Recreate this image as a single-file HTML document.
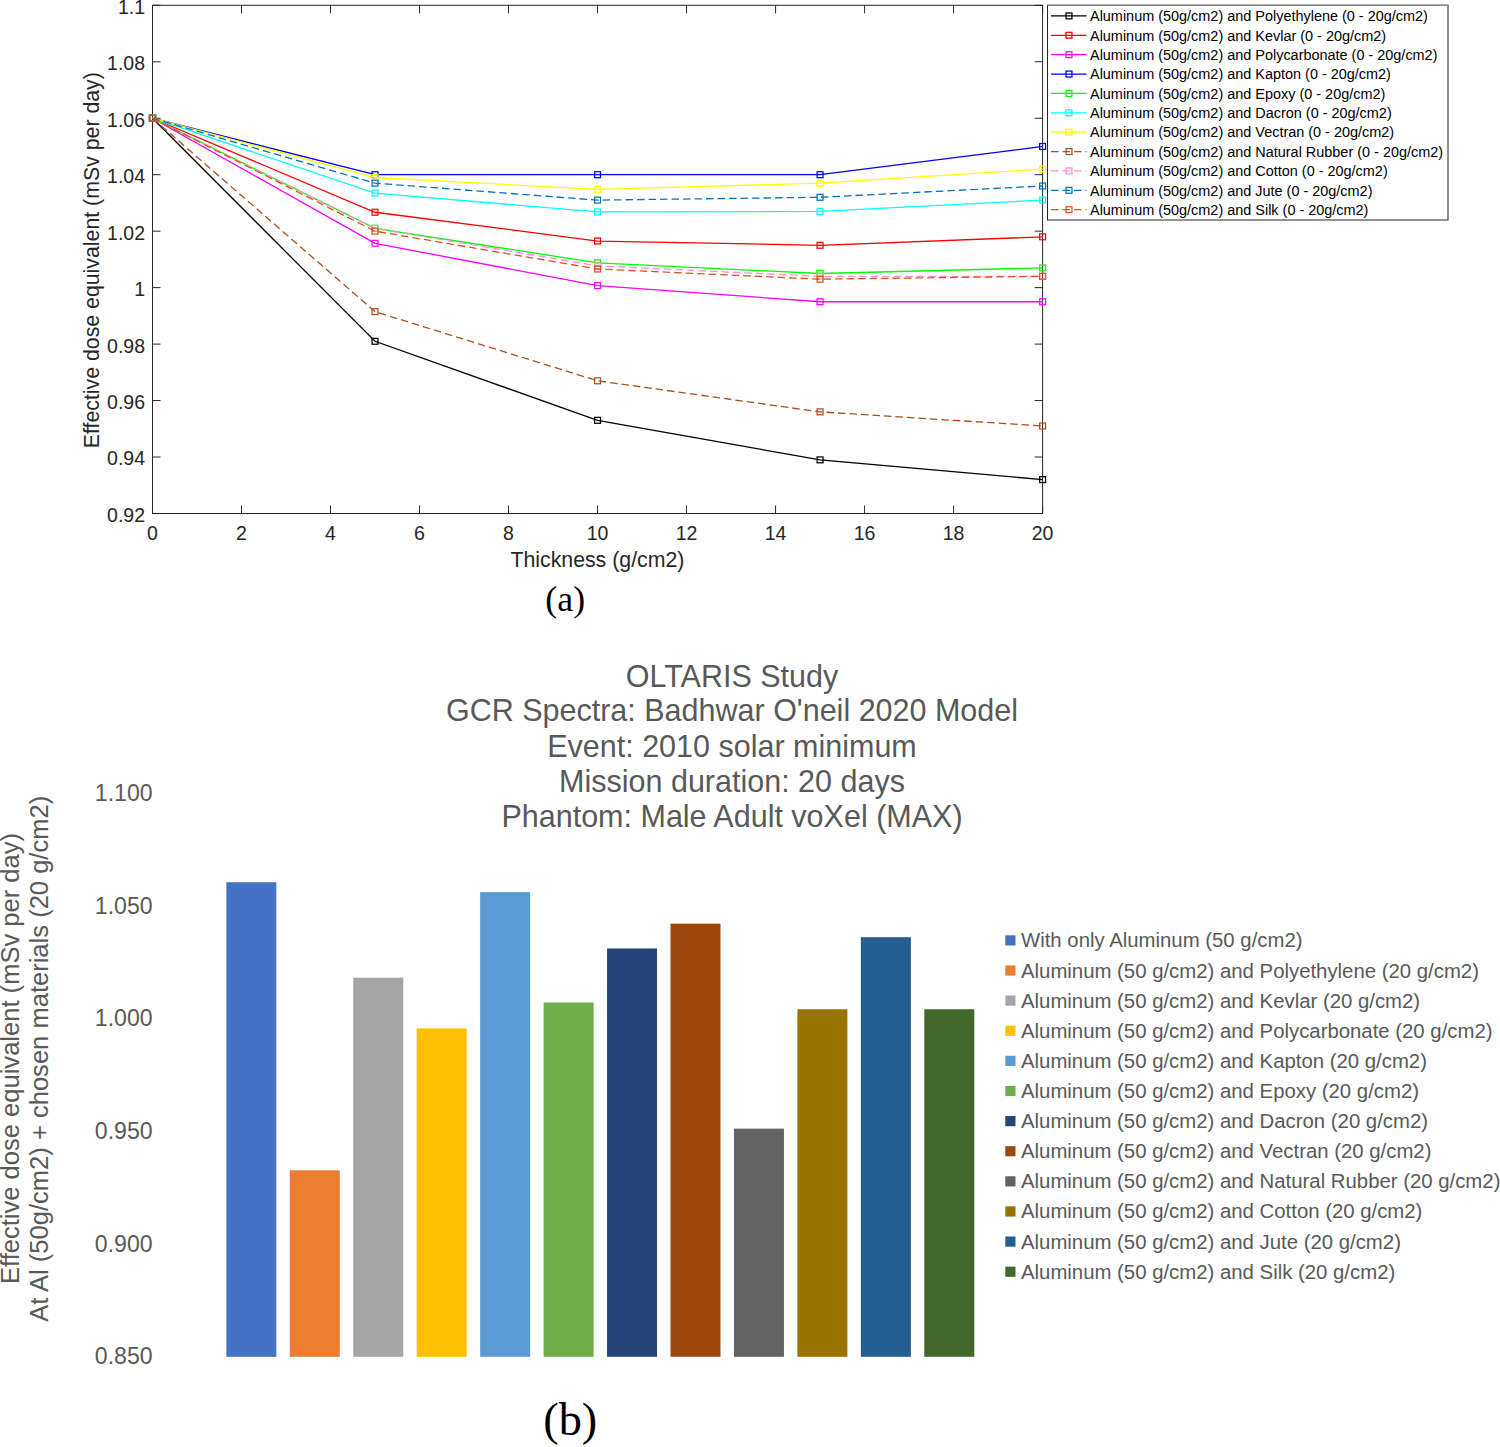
<!DOCTYPE html><html><head><meta charset="utf-8"><style>html,body{margin:0;padding:0;background:#fff;width:1500px;height:1447px;overflow:hidden}svg{display:block}text{font-family:"Liberation Sans",sans-serif}</style></head><body>
<svg width="1500" height="1447" viewBox="0 0 1500 1447">
<rect width="1500" height="1447" fill="#fff"/>
<g fill="none" stroke="#262626" stroke-width="1">
<rect x="152.5" y="5.3" width="890.0999999999999" height="508.2"/>
<line x1="152.50" y1="513.5" x2="152.50" y2="505.5"/><line x1="152.50" y1="5.3" x2="152.50" y2="13.3"/>
<line x1="241.51" y1="513.5" x2="241.51" y2="505.5"/><line x1="241.51" y1="5.3" x2="241.51" y2="13.3"/>
<line x1="330.52" y1="513.5" x2="330.52" y2="505.5"/><line x1="330.52" y1="5.3" x2="330.52" y2="13.3"/>
<line x1="419.53" y1="513.5" x2="419.53" y2="505.5"/><line x1="419.53" y1="5.3" x2="419.53" y2="13.3"/>
<line x1="508.54" y1="513.5" x2="508.54" y2="505.5"/><line x1="508.54" y1="5.3" x2="508.54" y2="13.3"/>
<line x1="597.55" y1="513.5" x2="597.55" y2="505.5"/><line x1="597.55" y1="5.3" x2="597.55" y2="13.3"/>
<line x1="686.56" y1="513.5" x2="686.56" y2="505.5"/><line x1="686.56" y1="5.3" x2="686.56" y2="13.3"/>
<line x1="775.57" y1="513.5" x2="775.57" y2="505.5"/><line x1="775.57" y1="5.3" x2="775.57" y2="13.3"/>
<line x1="864.58" y1="513.5" x2="864.58" y2="505.5"/><line x1="864.58" y1="5.3" x2="864.58" y2="13.3"/>
<line x1="953.59" y1="513.5" x2="953.59" y2="505.5"/><line x1="953.59" y1="5.3" x2="953.59" y2="13.3"/>
<line x1="1042.60" y1="513.5" x2="1042.60" y2="505.5"/><line x1="1042.60" y1="5.3" x2="1042.60" y2="13.3"/>
<line x1="152.5" y1="513.50" x2="160.5" y2="513.50"/><line x1="1042.6" y1="513.50" x2="1034.6" y2="513.50"/>
<line x1="152.5" y1="457.03" x2="160.5" y2="457.03"/><line x1="1042.6" y1="457.03" x2="1034.6" y2="457.03"/>
<line x1="152.5" y1="400.57" x2="160.5" y2="400.57"/><line x1="1042.6" y1="400.57" x2="1034.6" y2="400.57"/>
<line x1="152.5" y1="344.10" x2="160.5" y2="344.10"/><line x1="1042.6" y1="344.10" x2="1034.6" y2="344.10"/>
<line x1="152.5" y1="287.63" x2="160.5" y2="287.63"/><line x1="1042.6" y1="287.63" x2="1034.6" y2="287.63"/>
<line x1="152.5" y1="231.17" x2="160.5" y2="231.17"/><line x1="1042.6" y1="231.17" x2="1034.6" y2="231.17"/>
<line x1="152.5" y1="174.70" x2="160.5" y2="174.70"/><line x1="1042.6" y1="174.70" x2="1034.6" y2="174.70"/>
<line x1="152.5" y1="118.23" x2="160.5" y2="118.23"/><line x1="1042.6" y1="118.23" x2="1034.6" y2="118.23"/>
<line x1="152.5" y1="61.77" x2="160.5" y2="61.77"/><line x1="1042.6" y1="61.77" x2="1034.6" y2="61.77"/>
<line x1="152.5" y1="5.30" x2="160.5" y2="5.30"/><line x1="1042.6" y1="5.30" x2="1034.6" y2="5.30"/>
</g>
<g fill="#262626" font-size="19.5">
<text x="145" y="521.90" text-anchor="end">0.92</text>
<text x="145" y="465.43" text-anchor="end">0.94</text>
<text x="145" y="408.97" text-anchor="end">0.96</text>
<text x="145" y="352.50" text-anchor="end">0.98</text>
<text x="145" y="296.03" text-anchor="end">1</text>
<text x="145" y="239.57" text-anchor="end">1.02</text>
<text x="145" y="183.10" text-anchor="end">1.04</text>
<text x="145" y="126.63" text-anchor="end">1.06</text>
<text x="145" y="70.17" text-anchor="end">1.08</text>
<text x="145" y="13.70" text-anchor="end">1.1</text>
<text x="152.50" y="539.8" text-anchor="middle">0</text>
<text x="241.51" y="539.8" text-anchor="middle">2</text>
<text x="330.52" y="539.8" text-anchor="middle">4</text>
<text x="419.53" y="539.8" text-anchor="middle">6</text>
<text x="508.54" y="539.8" text-anchor="middle">8</text>
<text x="597.55" y="539.8" text-anchor="middle">10</text>
<text x="686.56" y="539.8" text-anchor="middle">12</text>
<text x="775.57" y="539.8" text-anchor="middle">14</text>
<text x="864.58" y="539.8" text-anchor="middle">16</text>
<text x="953.59" y="539.8" text-anchor="middle">18</text>
<text x="1042.60" y="539.8" text-anchor="middle">20</text>
</g>
<text x="597.4" y="567.2" text-anchor="middle" font-size="21.3" fill="#262626">Thickness (g/cm2)</text>
<text transform="translate(98.5 260.2) rotate(-90)" text-anchor="middle" font-size="21.3" fill="#262626">Effective dose equivalent (mSv per day)</text>
<polyline points="152.50,118.23 375.02,341.28 597.55,420.33 820.07,459.86 1042.60,479.62" fill="none" stroke="#000000" stroke-width="1.3"/>
<rect x="149.55" y="115.28" width="5.9" height="5.9" fill="none" stroke="#000000" stroke-width="1.25"/>
<rect x="372.07" y="338.33" width="5.9" height="5.9" fill="none" stroke="#000000" stroke-width="1.25"/>
<rect x="594.60" y="417.38" width="5.9" height="5.9" fill="none" stroke="#000000" stroke-width="1.25"/>
<rect x="817.12" y="456.91" width="5.9" height="5.9" fill="none" stroke="#000000" stroke-width="1.25"/>
<rect x="1039.65" y="476.67" width="5.9" height="5.9" fill="none" stroke="#000000" stroke-width="1.25"/>
<polyline points="152.50,118.23 375.02,212.25 597.55,241.05 820.07,245.28 1042.60,236.81" fill="none" stroke="#ff0000" stroke-width="1.3"/>
<rect x="149.55" y="115.28" width="5.9" height="5.9" fill="none" stroke="#ff0000" stroke-width="1.25"/>
<rect x="372.07" y="209.30" width="5.9" height="5.9" fill="none" stroke="#ff0000" stroke-width="1.25"/>
<rect x="594.60" y="238.10" width="5.9" height="5.9" fill="none" stroke="#ff0000" stroke-width="1.25"/>
<rect x="817.12" y="242.33" width="5.9" height="5.9" fill="none" stroke="#ff0000" stroke-width="1.25"/>
<rect x="1039.65" y="233.86" width="5.9" height="5.9" fill="none" stroke="#ff0000" stroke-width="1.25"/>
<polyline points="152.50,118.23 375.02,243.31 597.55,285.66 820.07,301.75 1042.60,301.75" fill="none" stroke="#ff00ff" stroke-width="1.3"/>
<rect x="149.55" y="115.28" width="5.9" height="5.9" fill="none" stroke="#ff00ff" stroke-width="1.25"/>
<rect x="372.07" y="240.36" width="5.9" height="5.9" fill="none" stroke="#ff00ff" stroke-width="1.25"/>
<rect x="594.60" y="282.71" width="5.9" height="5.9" fill="none" stroke="#ff00ff" stroke-width="1.25"/>
<rect x="817.12" y="298.80" width="5.9" height="5.9" fill="none" stroke="#ff00ff" stroke-width="1.25"/>
<rect x="1039.65" y="298.80" width="5.9" height="5.9" fill="none" stroke="#ff00ff" stroke-width="1.25"/>
<polyline points="152.50,118.23 375.02,174.70 597.55,174.70 820.07,174.70 1042.60,146.47" fill="none" stroke="#0000ff" stroke-width="1.3"/>
<rect x="149.55" y="115.28" width="5.9" height="5.9" fill="none" stroke="#0000ff" stroke-width="1.25"/>
<rect x="372.07" y="171.75" width="5.9" height="5.9" fill="none" stroke="#0000ff" stroke-width="1.25"/>
<rect x="594.60" y="171.75" width="5.9" height="5.9" fill="none" stroke="#0000ff" stroke-width="1.25"/>
<rect x="817.12" y="171.75" width="5.9" height="5.9" fill="none" stroke="#0000ff" stroke-width="1.25"/>
<rect x="1039.65" y="143.52" width="5.9" height="5.9" fill="none" stroke="#0000ff" stroke-width="1.25"/>
<polyline points="152.50,118.23 375.02,228.34 597.55,262.79 820.07,273.52 1042.60,267.87" fill="none" stroke="#00ff00" stroke-width="1.3"/>
<rect x="149.55" y="115.28" width="5.9" height="5.9" fill="none" stroke="#00ff00" stroke-width="1.25"/>
<rect x="372.07" y="225.39" width="5.9" height="5.9" fill="none" stroke="#00ff00" stroke-width="1.25"/>
<rect x="594.60" y="259.84" width="5.9" height="5.9" fill="none" stroke="#00ff00" stroke-width="1.25"/>
<rect x="817.12" y="270.57" width="5.9" height="5.9" fill="none" stroke="#00ff00" stroke-width="1.25"/>
<rect x="1039.65" y="264.92" width="5.9" height="5.9" fill="none" stroke="#00ff00" stroke-width="1.25"/>
<polyline points="152.50,118.23 375.02,193.05 597.55,211.97 820.07,211.40 1042.60,200.11" fill="none" stroke="#00ffff" stroke-width="1.3"/>
<rect x="149.55" y="115.28" width="5.9" height="5.9" fill="none" stroke="#00ffff" stroke-width="1.25"/>
<rect x="372.07" y="190.10" width="5.9" height="5.9" fill="none" stroke="#00ffff" stroke-width="1.25"/>
<rect x="594.60" y="209.02" width="5.9" height="5.9" fill="none" stroke="#00ffff" stroke-width="1.25"/>
<rect x="817.12" y="208.45" width="5.9" height="5.9" fill="none" stroke="#00ffff" stroke-width="1.25"/>
<rect x="1039.65" y="197.16" width="5.9" height="5.9" fill="none" stroke="#00ffff" stroke-width="1.25"/>
<polyline points="152.50,118.23 375.02,177.52 597.55,189.38 820.07,183.17 1042.60,169.05" fill="none" stroke="#ffff00" stroke-width="1.3"/>
<rect x="149.55" y="115.28" width="5.9" height="5.9" fill="none" stroke="#ffff00" stroke-width="1.25"/>
<rect x="372.07" y="174.57" width="5.9" height="5.9" fill="none" stroke="#ffff00" stroke-width="1.25"/>
<rect x="594.60" y="186.43" width="5.9" height="5.9" fill="none" stroke="#ffff00" stroke-width="1.25"/>
<rect x="817.12" y="180.22" width="5.9" height="5.9" fill="none" stroke="#ffff00" stroke-width="1.25"/>
<rect x="1039.65" y="166.10" width="5.9" height="5.9" fill="none" stroke="#ffff00" stroke-width="1.25"/>
<polyline points="152.50,118.23 375.02,311.63 597.55,380.80 820.07,411.86 1042.60,425.98" fill="none" stroke="#b04c1c" stroke-width="1.3" stroke-dasharray="7.5 4"/>
<rect x="149.55" y="115.28" width="5.9" height="5.9" fill="none" stroke="#b04c1c" stroke-width="1.25"/>
<rect x="372.07" y="308.68" width="5.9" height="5.9" fill="none" stroke="#b04c1c" stroke-width="1.25"/>
<rect x="594.60" y="377.85" width="5.9" height="5.9" fill="none" stroke="#b04c1c" stroke-width="1.25"/>
<rect x="817.12" y="408.91" width="5.9" height="5.9" fill="none" stroke="#b04c1c" stroke-width="1.25"/>
<rect x="1039.65" y="423.03" width="5.9" height="5.9" fill="none" stroke="#b04c1c" stroke-width="1.25"/>
<polyline points="152.50,118.23 375.02,228.34 597.55,265.89 820.07,276.34 1042.60,276.34" fill="none" stroke="#ff8fcf" stroke-width="1.3" stroke-dasharray="7.5 4"/>
<rect x="149.55" y="115.28" width="5.9" height="5.9" fill="none" stroke="#ff8fcf" stroke-width="1.25"/>
<rect x="372.07" y="225.39" width="5.9" height="5.9" fill="none" stroke="#ff8fcf" stroke-width="1.25"/>
<rect x="594.60" y="262.94" width="5.9" height="5.9" fill="none" stroke="#ff8fcf" stroke-width="1.25"/>
<rect x="817.12" y="273.39" width="5.9" height="5.9" fill="none" stroke="#ff8fcf" stroke-width="1.25"/>
<rect x="1039.65" y="273.39" width="5.9" height="5.9" fill="none" stroke="#ff8fcf" stroke-width="1.25"/>
<polyline points="152.50,118.23 375.02,183.17 597.55,200.11 820.07,197.29 1042.60,185.99" fill="none" stroke="#0072bd" stroke-width="1.3" stroke-dasharray="7.5 4"/>
<rect x="149.55" y="115.28" width="5.9" height="5.9" fill="none" stroke="#0072bd" stroke-width="1.25"/>
<rect x="372.07" y="180.22" width="5.9" height="5.9" fill="none" stroke="#0072bd" stroke-width="1.25"/>
<rect x="594.60" y="197.16" width="5.9" height="5.9" fill="none" stroke="#0072bd" stroke-width="1.25"/>
<rect x="817.12" y="194.34" width="5.9" height="5.9" fill="none" stroke="#0072bd" stroke-width="1.25"/>
<rect x="1039.65" y="183.04" width="5.9" height="5.9" fill="none" stroke="#0072bd" stroke-width="1.25"/>
<polyline points="152.50,118.23 375.02,231.17 597.55,269.00 820.07,279.16 1042.60,276.34" fill="none" stroke="#d95319" stroke-width="1.3" stroke-dasharray="7.5 4"/>
<rect x="149.55" y="115.28" width="5.9" height="5.9" fill="none" stroke="#d95319" stroke-width="1.25"/>
<rect x="372.07" y="228.22" width="5.9" height="5.9" fill="none" stroke="#d95319" stroke-width="1.25"/>
<rect x="594.60" y="266.05" width="5.9" height="5.9" fill="none" stroke="#d95319" stroke-width="1.25"/>
<rect x="817.12" y="276.21" width="5.9" height="5.9" fill="none" stroke="#d95319" stroke-width="1.25"/>
<rect x="1039.65" y="273.39" width="5.9" height="5.9" fill="none" stroke="#d95319" stroke-width="1.25"/>
<rect x="1047.5" y="5.2" width="400.5" height="214.8" fill="#fff" stroke="#262626" stroke-width="1"/>
<line x1="1047.5" y1="5.2" x2="1448" y2="5.2" stroke="#999" stroke-width="1"/>
<line x1="1051" y1="15.90" x2="1086.6" y2="15.90" stroke="#000000" stroke-width="1.3"/>
<rect x="1066.05" y="12.95" width="5.9" height="5.9" fill="none" stroke="#000000" stroke-width="1.25"/>
<text x="1090" y="21.20" font-size="14.45" fill="#000">Aluminum (50g/cm2) and Polyethylene (0 - 20g/cm2)</text>
<line x1="1051" y1="35.28" x2="1086.6" y2="35.28" stroke="#ff0000" stroke-width="1.3"/>
<rect x="1066.05" y="32.33" width="5.9" height="5.9" fill="none" stroke="#ff0000" stroke-width="1.25"/>
<text x="1090" y="40.58" font-size="14.45" fill="#000">Aluminum (50g/cm2) and Kevlar (0 - 20g/cm2)</text>
<line x1="1051" y1="54.66" x2="1086.6" y2="54.66" stroke="#ff00ff" stroke-width="1.3"/>
<rect x="1066.05" y="51.71" width="5.9" height="5.9" fill="none" stroke="#ff00ff" stroke-width="1.25"/>
<text x="1090" y="59.96" font-size="14.45" fill="#000">Aluminum (50g/cm2) and Polycarbonate (0 - 20g/cm2)</text>
<line x1="1051" y1="74.04" x2="1086.6" y2="74.04" stroke="#0000ff" stroke-width="1.3"/>
<rect x="1066.05" y="71.09" width="5.9" height="5.9" fill="none" stroke="#0000ff" stroke-width="1.25"/>
<text x="1090" y="79.34" font-size="14.45" fill="#000">Aluminum (50g/cm2) and Kapton (0 - 20g/cm2)</text>
<line x1="1051" y1="93.42" x2="1086.6" y2="93.42" stroke="#00ff00" stroke-width="1.3"/>
<rect x="1066.05" y="90.47" width="5.9" height="5.9" fill="none" stroke="#00ff00" stroke-width="1.25"/>
<text x="1090" y="98.72" font-size="14.45" fill="#000">Aluminum (50g/cm2) and Epoxy (0 - 20g/cm2)</text>
<line x1="1051" y1="112.80" x2="1086.6" y2="112.80" stroke="#00ffff" stroke-width="1.3"/>
<rect x="1066.05" y="109.85" width="5.9" height="5.9" fill="none" stroke="#00ffff" stroke-width="1.25"/>
<text x="1090" y="118.10" font-size="14.45" fill="#000">Aluminum (50g/cm2) and Dacron (0 - 20g/cm2)</text>
<line x1="1051" y1="132.18" x2="1086.6" y2="132.18" stroke="#ffff00" stroke-width="1.3"/>
<rect x="1066.05" y="129.23" width="5.9" height="5.9" fill="none" stroke="#ffff00" stroke-width="1.25"/>
<text x="1090" y="137.48" font-size="14.45" fill="#000">Aluminum (50g/cm2) and Vectran (0 - 20g/cm2)</text>
<line x1="1051" y1="151.56" x2="1086.6" y2="151.56" stroke="#b04c1c" stroke-width="1.3" stroke-dasharray="7.5 4"/>
<rect x="1066.05" y="148.61" width="5.9" height="5.9" fill="none" stroke="#b04c1c" stroke-width="1.25"/>
<text x="1090" y="156.86" font-size="14.45" fill="#000">Aluminum (50g/cm2) and Natural Rubber (0 - 20g/cm2)</text>
<line x1="1051" y1="170.94" x2="1086.6" y2="170.94" stroke="#ff8fcf" stroke-width="1.3" stroke-dasharray="7.5 4"/>
<rect x="1066.05" y="167.99" width="5.9" height="5.9" fill="none" stroke="#ff8fcf" stroke-width="1.25"/>
<text x="1090" y="176.24" font-size="14.45" fill="#000">Aluminum (50g/cm2) and Cotton (0 - 20g/cm2)</text>
<line x1="1051" y1="190.32" x2="1086.6" y2="190.32" stroke="#0072bd" stroke-width="1.3" stroke-dasharray="7.5 4"/>
<rect x="1066.05" y="187.37" width="5.9" height="5.9" fill="none" stroke="#0072bd" stroke-width="1.25"/>
<text x="1090" y="195.62" font-size="14.45" fill="#000">Aluminum (50g/cm2) and Jute (0 - 20g/cm2)</text>
<line x1="1051" y1="209.70" x2="1086.6" y2="209.70" stroke="#d95319" stroke-width="1.3" stroke-dasharray="7.5 4"/>
<rect x="1066.05" y="206.75" width="5.9" height="5.9" fill="none" stroke="#d95319" stroke-width="1.25"/>
<text x="1090" y="215.00" font-size="14.45" fill="#000">Aluminum (50g/cm2) and Silk (0 - 20g/cm2)</text>
<text x="565.2" y="610.7" text-anchor="middle" font-size="35.8" fill="#000" style="font-family:'Liberation Serif',serif">(a)</text>
<g fill="#595959" font-size="30.5" text-anchor="middle">
<text x="732" y="687.2">OLTARIS Study</text>
<text x="732" y="721.0">GCR Spectra: Badhwar O'neil 2020 Model</text>
<text x="732" y="757.3">Event: 2010 solar minimum</text>
<text x="732" y="791.5">Mission duration: 20 days</text>
<text x="732" y="826.9">Phantom: Male Adult voXel (MAX)</text>
</g>
<g fill="#595959" font-size="23.1" text-anchor="end">
<text x="152.6" y="801.10">1.100</text>
<text x="152.6" y="913.72">1.050</text>
<text x="152.6" y="1026.34">1.000</text>
<text x="152.6" y="1138.96">0.950</text>
<text x="152.6" y="1251.58">0.900</text>
<text x="152.6" y="1364.20">0.850</text>
</g>
<g fill="#595959" font-size="25.55" text-anchor="middle">
<text transform="translate(19.2 1058.5) rotate(-90)">Effective dose equivalent (mSv per day)</text>
<text transform="translate(48.3 1058.8) rotate(-90)">At Al (50g/cm2) + chosen materials (20 g/cm2)</text>
</g>
<rect x="226.35" y="882.22" width="50" height="474.58" fill="#4472C4"/>
<rect x="289.80" y="1170.30" width="50" height="186.50" fill="#ED7D31"/>
<rect x="353.25" y="977.72" width="50" height="379.08" fill="#A5A5A5"/>
<rect x="416.70" y="1028.40" width="50" height="328.40" fill="#FFC000"/>
<rect x="480.15" y="892.13" width="50" height="464.67" fill="#5B9BD5"/>
<rect x="543.60" y="1002.50" width="50" height="354.30" fill="#70AD47"/>
<rect x="607.05" y="948.44" width="50" height="408.36" fill="#264478"/>
<rect x="670.50" y="923.66" width="50" height="433.14" fill="#9E480E"/>
<rect x="733.95" y="1128.63" width="50" height="228.17" fill="#636363"/>
<rect x="797.40" y="1009.25" width="50" height="347.55" fill="#997300"/>
<rect x="860.85" y="937.18" width="50" height="419.62" fill="#255E91"/>
<rect x="924.30" y="1009.25" width="50" height="347.55" fill="#43682B"/>
<rect x="1005.3" y="935.30" width="10.2" height="10.2" fill="#4472C4"/>
<text x="1021" y="947.40" font-size="20.35" fill="#595959">With only Aluminum (50 g/cm2)</text>
<rect x="1005.3" y="965.42" width="10.2" height="10.2" fill="#ED7D31"/>
<text x="1021" y="977.52" font-size="20.35" fill="#595959">Aluminum (50 g/cm2) and Polyethylene (20 g/cm2)</text>
<rect x="1005.3" y="995.54" width="10.2" height="10.2" fill="#A5A5A5"/>
<text x="1021" y="1007.64" font-size="20.35" fill="#595959">Aluminum (50 g/cm2) and Kevlar (20 g/cm2)</text>
<rect x="1005.3" y="1025.66" width="10.2" height="10.2" fill="#FFC000"/>
<text x="1021" y="1037.76" font-size="20.35" fill="#595959">Aluminum (50 g/cm2) and Polycarbonate (20 g/cm2)</text>
<rect x="1005.3" y="1055.78" width="10.2" height="10.2" fill="#5B9BD5"/>
<text x="1021" y="1067.88" font-size="20.35" fill="#595959">Aluminum (50 g/cm2) and Kapton (20 g/cm2)</text>
<rect x="1005.3" y="1085.90" width="10.2" height="10.2" fill="#70AD47"/>
<text x="1021" y="1098.00" font-size="20.35" fill="#595959">Aluminum (50 g/cm2) and Epoxy (20 g/cm2)</text>
<rect x="1005.3" y="1116.02" width="10.2" height="10.2" fill="#264478"/>
<text x="1021" y="1128.12" font-size="20.35" fill="#595959">Aluminum (50 g/cm2) and Dacron (20 g/cm2)</text>
<rect x="1005.3" y="1146.14" width="10.2" height="10.2" fill="#9E480E"/>
<text x="1021" y="1158.24" font-size="20.35" fill="#595959">Aluminum (50 g/cm2) and Vectran (20 g/cm2)</text>
<rect x="1005.3" y="1176.26" width="10.2" height="10.2" fill="#636363"/>
<text x="1021" y="1188.36" font-size="20.35" fill="#595959">Aluminum (50 g/cm2) and Natural Rubber (20 g/cm2)</text>
<rect x="1005.3" y="1206.38" width="10.2" height="10.2" fill="#997300"/>
<text x="1021" y="1218.48" font-size="20.35" fill="#595959">Aluminum (50 g/cm2) and Cotton (20 g/cm2)</text>
<rect x="1005.3" y="1236.50" width="10.2" height="10.2" fill="#255E91"/>
<text x="1021" y="1248.60" font-size="20.35" fill="#595959">Aluminum (50 g/cm2) and Jute (20 g/cm2)</text>
<rect x="1005.3" y="1266.62" width="10.2" height="10.2" fill="#43682B"/>
<text x="1021" y="1278.72" font-size="20.35" fill="#595959">Aluminum (50 g/cm2) and Silk (20 g/cm2)</text>
<text x="570.3" y="1435.3" text-anchor="middle" font-size="46.3" fill="#000" style="font-family:'Liberation Serif',serif">(b)</text>
</svg></body></html>
